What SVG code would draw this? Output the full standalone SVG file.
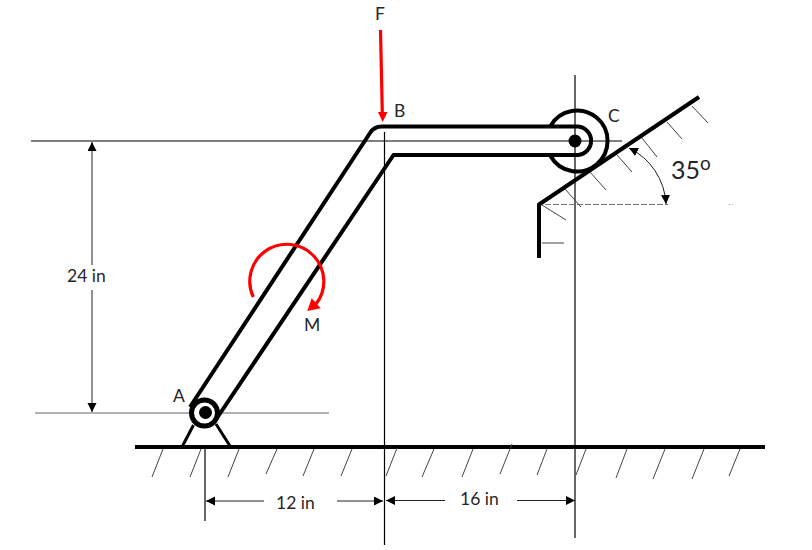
<svg xmlns="http://www.w3.org/2000/svg" width="812" height="550" viewBox="0 0 812 550">
<style>
.thick{fill:none;stroke:#000;stroke-width:4;stroke-linecap:butt;stroke-linejoin:round}
.link{fill:none;stroke:#000;stroke-width:4;stroke-linejoin:round}
.thin{fill:none;stroke:#000;stroke-width:1.2}
.hatch{fill:none;stroke:#444;stroke-width:1}
.dim{fill:none;stroke:#222;stroke-width:1}
.red{fill:none;stroke:#f00;stroke-width:3.2}
text{font-family:"Lato","Liberation Sans",sans-serif;fill:#262626;font-size:17.500px}
</style>
<defs>
<marker id="ah" markerUnits="userSpaceOnUse" markerWidth="10" markerHeight="10" refX="9" refY="4.5" orient="auto-start-reverse"><path d="M0,0L9,4.5L0,9Z" fill="#000"/></marker>
</defs>
<g id="reference-lines">
<line class="thin" x1="31" y1="141" x2="622" y2="141"/>
<line x1="35" y1="413" x2="329" y2="413" stroke="#666" stroke-width="1"/>
<line class="thin" x1="205" y1="447" x2="205" y2="521"/>
<line class="thin" x1="384.5" y1="132" x2="384.5" y2="545"/>
<line class="thin" x1="575" y1="75" x2="575" y2="538"/>
<line x1="545" y1="204.5" x2="668" y2="204.5" stroke="#777" stroke-width="1" stroke-dasharray="6 2"/>
<line x1="729" y1="204.5" x2="733" y2="204.5" stroke="#bbb" stroke-width="1" stroke-dasharray="1.5 1.5"/>
</g>
<g id="ground">
<line x1="135" y1="447" x2="765" y2="447" stroke="#000" stroke-width="4"/>
<path class="hatch" d="M163,449L152,477M201,449L190,477M239,449L228,477M277,449L266,474M314,449L303,476M352,449L341,476M397,448L386,476M434,449L422,477M473,449L462,477M512,444L500,474M547,449L537,475M586,449L576,475M627,449L616,478M665,449L653,479M704,449L692,479M740,449L729,476"/>
</g>
<g id="incline">
<path class="thick" d="M699,97L539,204.5V258"/>
<path class="hatch" d="M692,106L708,123M667,122L682,139M642,138L657,157M617,155L632,172M590,172L606,190M565,189L581,207M542,205L566,220M542,243L564,243"/>
</g>
<g id="connectors">
<path class="dim" d="M92,265V142" marker-end="url(#ah)"/>
<path class="dim" d="M92,290V412" marker-end="url(#ah)"/>
<path class="dim" d="M264,501H206" marker-end="url(#ah)" stroke="#555"/>
<path class="dim" d="M337,501H383" marker-end="url(#ah)" stroke="#555"/>
<path class="dim" d="M445,500.5H386" marker-end="url(#ah)"/>
<path class="dim" d="M517,500.5H575" marker-end="url(#ah)"/>
<path class="dim" d="M629,148A66,66 0 0 1 666,204" marker-start="url(#ah)" marker-end="url(#ah)" stroke="#333"/>
</g>
<g id="node-link-ABC">
<path class="link" d="M190,407L370,133Q374,126.500 382,126.500H578A14.300,14.300 0 0 1 578,155H393.500L217,418"/>
</g>
<g id="node-C">
<path class="link" d="M550.500,126A30.500,30.500 0 1 1 550.500,156"/>
<circle cx="575" cy="141" r="6.500" fill="#000"/>
</g>
<g id="node-A">
<path fill="none" stroke="#000" stroke-width="3" d="M193.500,425L182.500,446M216,424L230,446"/>
<circle cx="204.500" cy="413" r="13" fill="#fff" stroke="#000" stroke-width="5"/>
<circle cx="205.500" cy="412.500" r="6.500" fill="#000"/>
</g>
<g id="load-F">
<line class="red" x1="380.500" y1="30" x2="382.300" y2="113"/>
<path d="M378,112H387.500L382.700,122Z" fill="#f00"/>
</g>
<g id="moment-M">
<path class="red" d="M253.300,297A37,37 0 1 1 316,304"/>
<path d="M311.700,298.300L320.700,308.300L307.300,311Z" fill="#f00"/>
</g>
<g id="labels">
<text x="375" y="20">F</text>
<text x="394" y="117">B</text>
<text x="608" y="122">C</text>
<text x="173" y="402">A</text>
<text x="304" y="331">M</text>
<text x="67" y="282">24 in</text>
<text x="276" y="509">12 in</text>
<text x="460" y="505">16 in</text>
<text x="671" y="179" style="font-size:25px">35<tspan dy="-9" style="font-size:19px">o</tspan></text>
</g>
</svg>
